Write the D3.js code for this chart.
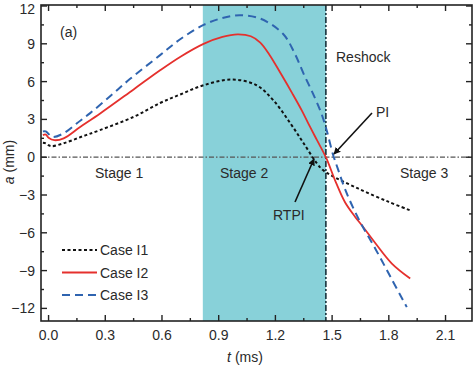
<!DOCTYPE html>
<html><head><meta charset="utf-8">
<script src="https://cdn.jsdelivr.net/npm/d3@7"></script>
<style>body{margin:0;background:#fff}svg{display:block}text{font-family:"Liberation Sans",Arial,sans-serif;fill:#2a2a2a}</style>
</head><body><svg id="c" width="474" height="367"></svg>
<script>
const xTicks = [0.0, 0.3, 0.6, 0.9, 1.2, 1.5, 1.8, 2.1];
const yTicks = [-12, -9, -6, -3, 0, 3, 6, 9, 12];
const seriesNames = ["Case I1", "Case I2", "Case I3"];
const tI1 = [-0.03, -0.015, 0.0, 0.015, 0.077, 0.17, 0.27, 0.45, 0.59, 0.7, 0.82, 0.97, 1.10, 1.19, 1.28, 1.35, 1.42, 1.45, 1.49, 1.64, 1.80, 1.91];
const aI1 = [1.15, 1.1, 0.95, 0.87, 1.09, 1.6, 2.14, 3.2, 4.3, 5.0, 5.71, 6.17, 5.71, 4.5, 2.67, 1.09, -0.5, -1.0, -1.4, -2.5, -3.55, -4.2];
const tI2 = [-0.03, -0.015, 0.0, 0.03, 0.08, 0.167, 0.273, 0.45, 0.59, 0.7, 0.82, 0.92, 1.0, 1.07, 1.12, 1.17, 1.23, 1.29, 1.34, 1.38, 1.42, 1.467, 1.52, 1.569, 1.622, 1.657, 1.73, 1.816, 1.913];
const aI2 = [1.75, 1.8, 1.55, 1.35, 1.5, 2.4, 3.47, 5.38, 6.9, 8.0, 9.0, 9.55, 9.75, 9.6, 9.1, 8.1, 6.6, 5.05, 3.7, 2.5, 1.35, 0.0, -2.0, -3.6, -4.74, -5.4, -6.85, -8.44, -9.63];
const tI3 = [-0.03, -0.015, 0.0, 0.02, 0.08, 0.15, 0.22, 0.33, 0.43, 0.59, 0.7, 0.82, 0.92, 1.01, 1.12, 1.24, 1.30, 1.35, 1.40, 1.44, 1.47, 1.505, 1.53, 1.57, 1.64, 1.73, 1.816, 1.895];
const aI3 = [2.05, 2.05, 1.85, 1.6, 1.9, 2.7, 3.5, 4.9, 6.2, 8.1, 9.4, 10.5, 11.05, 11.27, 11.0, 9.8, 8.3, 6.6, 5.0, 3.6, 2.2, 0.2, -0.9, -2.6, -4.9, -7.3, -9.7, -11.9];
const stage2 = [0.816, 1.467];
const reshockT = 1.467;

const svg = d3.select("#c");
const x = d3.scaleLinear().domain([-0.04, 2.24]).range([41, 472]);
const y = d3.scaleLinear().domain([-13, 12.08]).range([321, 5]);
const X0 = 41, X1 = 472, Y0 = 5, Y1 = 321;

svg.append("rect").attr("x", x(stage2[0])).attr("y", Y0).attr("width", x(stage2[1]) - x(stage2[0])).attr("height", Y1 - Y0).attr("fill", "#88d1d9");
svg.append("line").attr("x1", X0).attr("x2", X1).attr("y1", y(0)).attr("y2", y(0)).attr("stroke", "#555").attr("stroke-width", 1.2).attr("stroke-dasharray", "5,2,1.5,2");
svg.append("line").attr("x1", x(reshockT)).attr("x2", x(reshockT)).attr("y1", Y0).attr("y2", Y1).attr("stroke", "#16323c").attr("stroke-width", 1.6).attr("stroke-dasharray", "6,2,2,2");

const line = d3.line().x(d => x(d[0])).y(d => y(d[1])).curve(d3.curveCatmullRom.alpha(0.5));
const styles = [
  {c: "#111", dash: "3,2.5", w: 2},
  {c: "#e5302d", dash: null, w: 1.8},
  {c: "#2f64b0", dash: "8,5", w: 2}
];
const data = [d3.zip(tI1, aI1), d3.zip(tI2, aI2), d3.zip(tI3, aI3)];
data.forEach((d, i) => {
  svg.append("path").attr("d", line(d)).attr("fill", "none").attr("stroke", styles[i].c)
    .attr("stroke-width", styles[i].w).attr("stroke-dasharray", styles[i].dash);
});

svg.append("rect").attr("x", X0).attr("y", Y0).attr("width", X1 - X0).attr("height", Y1 - Y0).attr("fill", "none").attr("stroke", "#222").attr("stroke-width", 1.6);

const g = svg.append("g").attr("stroke", "#222").attr("stroke-width", 1.4);
const xMinor = d3.range(0.15, 2.24, 0.3);
const yMinor = d3.range(-10.5, 12, 3);
xTicks.forEach(t => { g.append("line").attr("x1", x(t)).attr("x2", x(t)).attr("y1", Y1).attr("y2", Y1 - 6);
  g.append("line").attr("x1", x(t)).attr("x2", x(t)).attr("y1", Y0).attr("y2", Y0 + 6); });
xMinor.forEach(t => { g.append("line").attr("x1", x(t)).attr("x2", x(t)).attr("y1", Y1).attr("y2", Y1 - 3);
  g.append("line").attr("x1", x(t)).attr("x2", x(t)).attr("y1", Y0).attr("y2", Y0 + 3); });
yTicks.forEach(v => { g.append("line").attr("y1", y(v)).attr("y2", y(v)).attr("x1", X0).attr("x2", X0 + 6);
  g.append("line").attr("y1", y(v)).attr("y2", y(v)).attr("x1", X1).attr("x2", X1 - 6); });
yMinor.forEach(v => { g.append("line").attr("y1", y(v)).attr("y2", y(v)).attr("x1", X0).attr("x2", X0 + 3);
  g.append("line").attr("y1", y(v)).attr("y2", y(v)).attr("x1", X1).attr("x2", X1 - 3); });

const fmtX = d3.format(".1f"), fmtY = d3.format("d");
xTicks.forEach(t => svg.append("text").attr("x", x(t)).attr("y", 340).attr("text-anchor", "middle").attr("font-size", 14).text(fmtX(t)));
yTicks.forEach(v => svg.append("text").attr("x", 35).attr("y", Math.max(y(v), 9)).attr("dy", "0.36em").attr("text-anchor", "end").attr("font-size", 14).text(fmtY(v)));

const xt = svg.append("text").attr("x", 245).attr("y", 362).attr("text-anchor", "middle").attr("font-size", 14);
xt.append("tspan").attr("font-style", "italic").text("t");
xt.append("tspan").text(" (ms)");
const yt = svg.append("text").attr("transform", "translate(14,162) rotate(-90)").attr("text-anchor", "middle").attr("font-size", 14);
yt.append("tspan").attr("font-style", "italic").text("a");
yt.append("tspan").text(" (mm)");

const ann = [["(a)", 60, 37], ["Reshock", 336, 62], ["PI", 376, 117], ["Stage 1", 95, 178], ["Stage 2", 220, 178], ["Stage 3", 400, 178], ["RTPI", 273, 220]];
ann.forEach(a => svg.append("text").attr("x", a[1]).attr("y", a[2]).attr("font-size", 14).text(a[0]));

const defs = svg.append("defs");
defs.append("marker").attr("id", "ah").attr("viewBox", "0 0 10 10").attr("refX", 9).attr("refY", 5)
  .attr("markerWidth", 7).attr("markerHeight", 7).attr("markerUnits", "userSpaceOnUse").attr("orient", "auto")
  .append("path").attr("d", "M0,0 L10,5 L0,10 z").attr("fill", "#111");
svg.append("line").attr("x1", 372).attr("y1", 113).attr("x2", 334).attr("y2", 154).attr("stroke", "#111").attr("stroke-width", 1.6).attr("marker-end", "url(#ah)");
svg.append("line").attr("x1", 295).attr("y1", 202).attr("x2", 314).attr("y2", 159).attr("stroke", "#111").attr("stroke-width", 1.6).attr("marker-end", "url(#ah)");

seriesNames.forEach((n, i) => {
  const ly = 250 + i * 22.5;
  svg.append("line").attr("x1", 62).attr("x2", 97).attr("y1", ly).attr("y2", ly).attr("stroke", styles[i].c)
    .attr("stroke-width", styles[i].w).attr("stroke-dasharray", styles[i].dash);
  svg.append("text").attr("x", 100).attr("y", ly).attr("dy", "0.36em").attr("font-size", 14).text(n);
});
</script></body></html>
